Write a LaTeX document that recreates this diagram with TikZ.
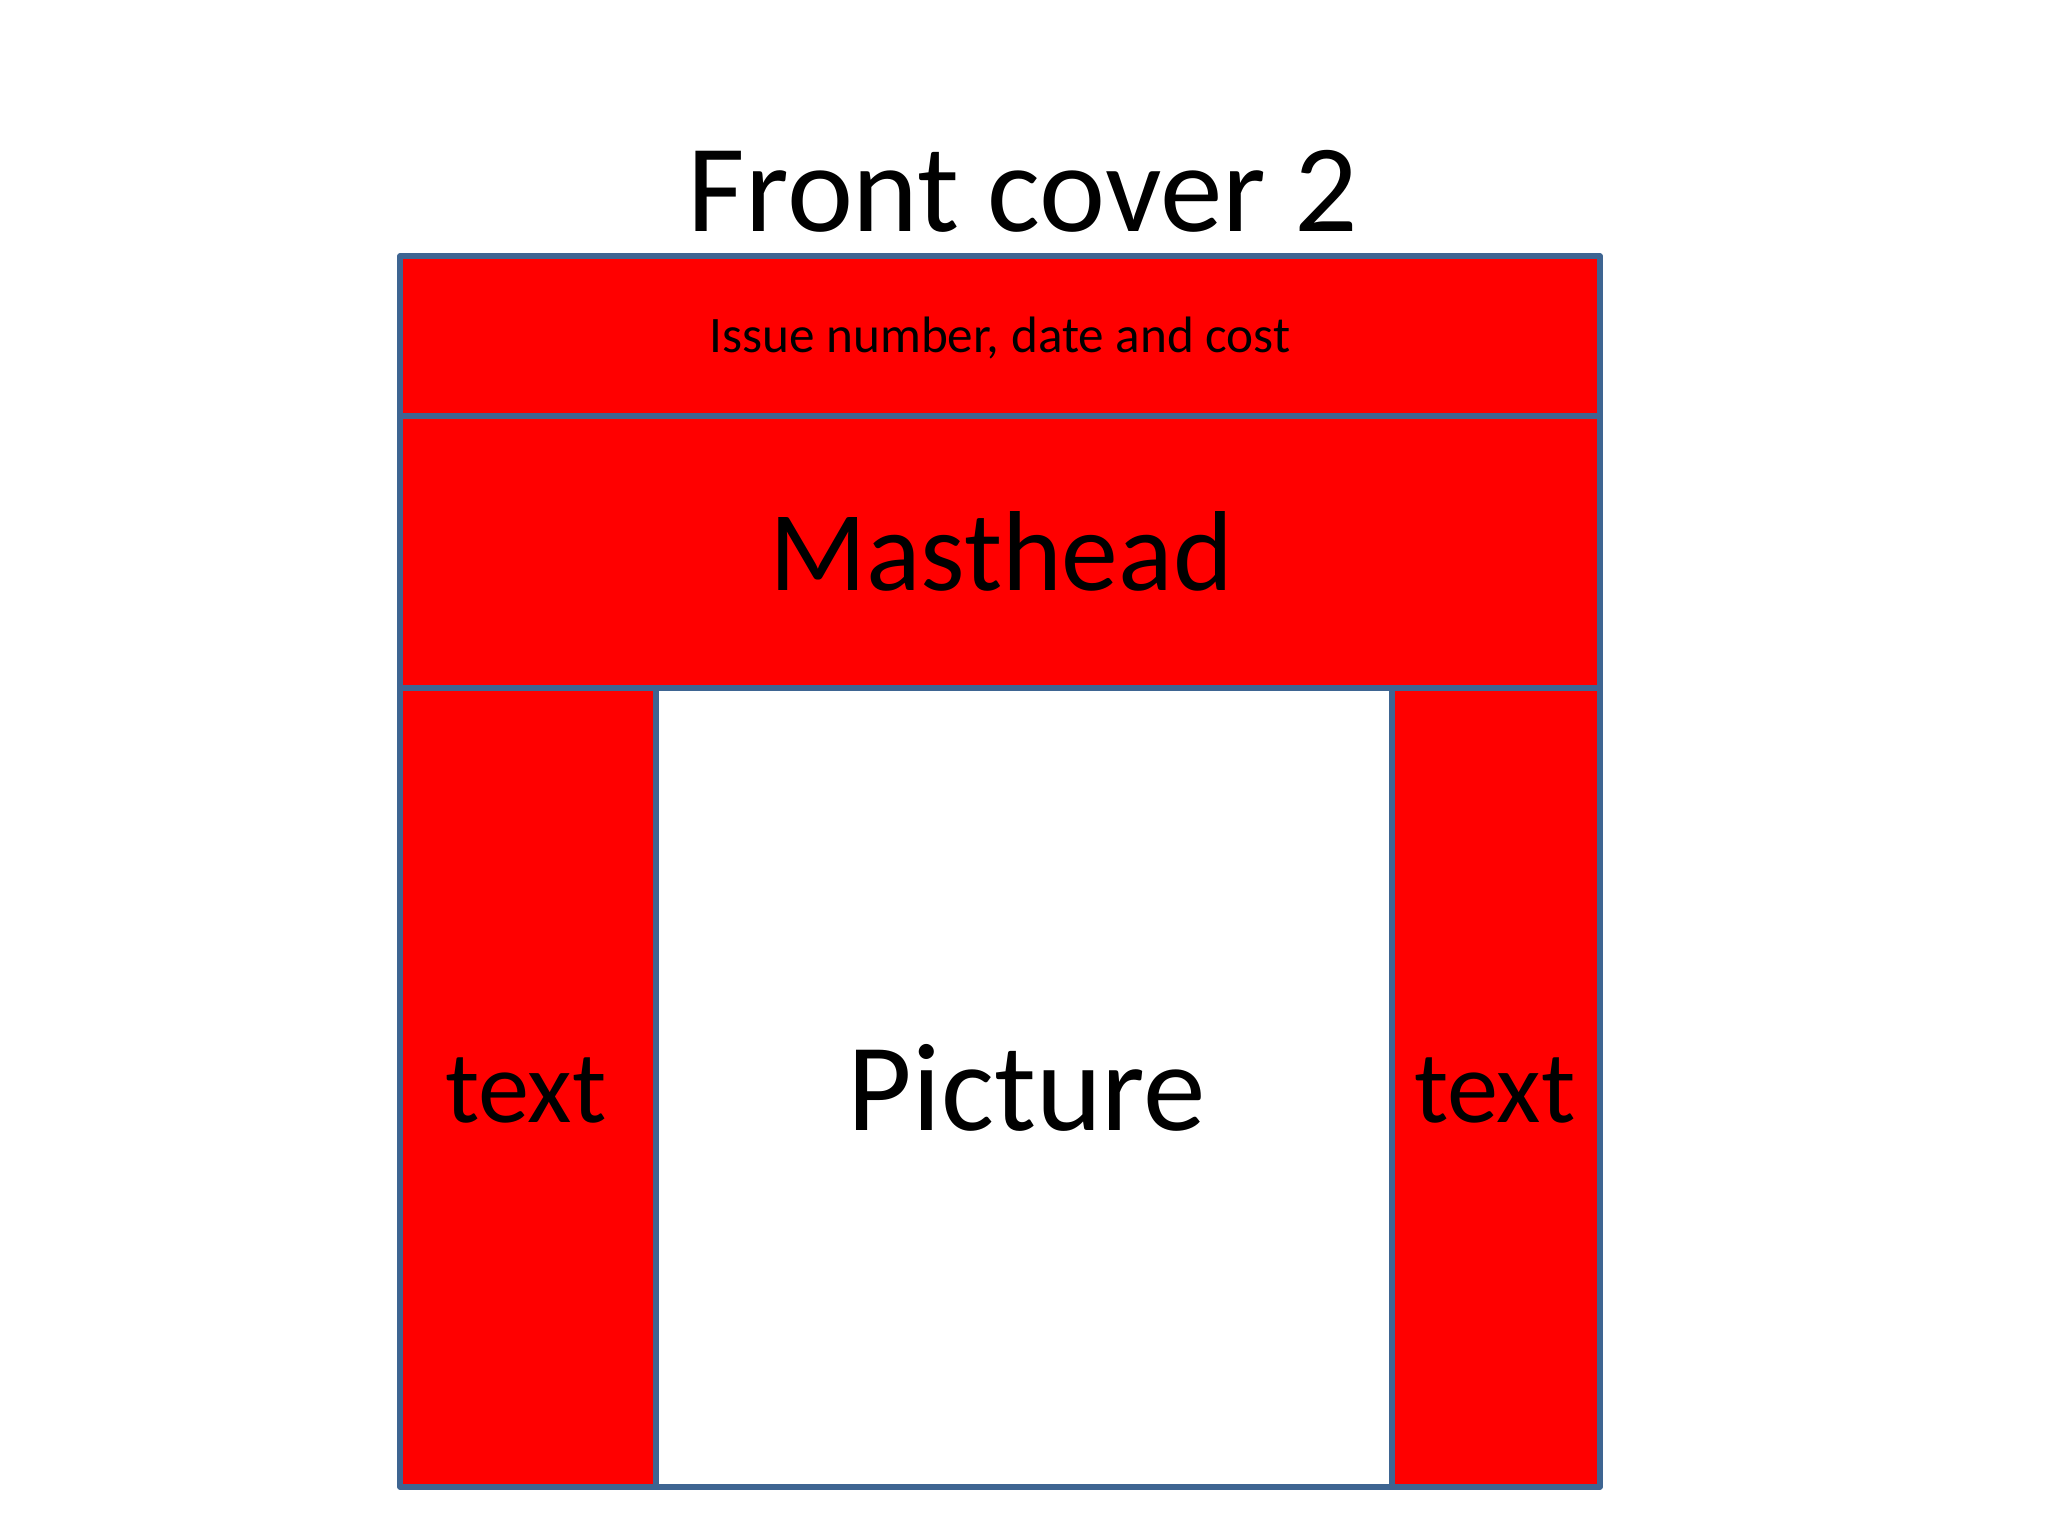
\documentclass[tikz,border=0pt]{standalone}
\usepackage{fontspec}
\setmainfont{Carlito}
\definecolor{edge}{HTML}{3E6592}
\definecolor{boxred}{HTML}{FF0000}
\begin{document}
\begin{tikzpicture}[x=0.3515625pt,y=-0.3515625pt,
  panel/.style={draw=edge,line width=1.9pt,inner sep=0pt,outer sep=0pt,anchor=north west,line join=round},
  redpanel/.style={panel,fill=boxred},
  whitepanel/.style={panel,fill=white},
  lbl/.style={anchor=base,inner sep=0pt,text=black}]
\useasboundingbox (0,0) rectangle (2048,1536);
\fill[white] (0,0) rectangle (2048,1536);
% panels (sizes in px * 0.3515625pt)
\node[redpanel,minimum width=421.875pt,minimum height=56.25pt] (issue) at (400,256) {};
\node[redpanel,minimum width=421.875pt,minimum height=95.625pt] (mast) at (400,416) {};
\node[redpanel,minimum width=90pt,minimum height=280.9pt] (lcol) at (400,688) {};
\node[whitepanel,minimum width=258.75pt,minimum height=280.9pt] (pic) at (656,688) {};
\node[redpanel,minimum width=73.125pt,minimum height=280.9pt] (rcol) at (1392,688) {};
% texts
\node[lbl,font=\fontsize{44}{52}\selectfont] (title) at (1023,232) {Front cover 2};
\node[lbl,font=\fontsize{18}{22}\selectfont] (issuet) at (1000,353) {Issue number, date and cost};
\node[lbl,font=\fontsize{40}{48}\selectfont] (mastt) at (1001,590) {Masthead};
\node[lbl,font=\fontsize{44}{52}\selectfont] (pict) at (1027,1130) {Picture};
\node[lbl,font=\fontsize{36}{44}\selectfont] (lt) at (526,1122) {text};
\node[lbl,font=\fontsize{36}{44}\selectfont] (rt) at (1495,1122) {text};
\end{tikzpicture}
\end{document}
